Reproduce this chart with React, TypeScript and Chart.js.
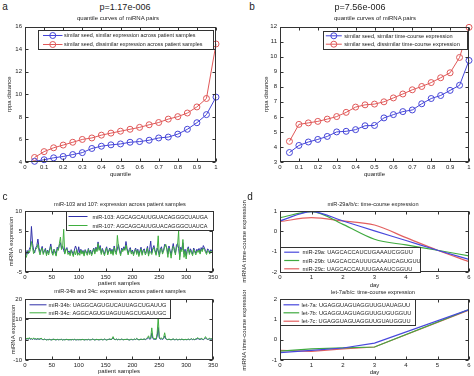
import React, { useEffect, useRef } from 'react';
import { Chart, registerables } from 'chart.js';

Chart.register(...registerables);

const FONT = '"Liberation Sans", Arial, Helvetica, sans-serif';
const TXT = '#222';
const AXIS = '#333';

// ---------- panel a / b : quantile curves ----------
const quantiles = [0.05, 0.1, 0.15, 0.2, 0.25, 0.3, 0.35, 0.4, 0.45, 0.5, 0.55, 0.6, 0.65, 0.7, 0.75, 0.8, 0.85, 0.9, 0.95, 1.0];
const aSimilar = [4.06, 4.2, 4.37, 4.49, 4.66, 4.83, 5.2, 5.4, 5.52, 5.6, 5.75, 5.81, 5.93, 6.13, 6.21, 6.47, 6.9, 7.48, 8.2, 9.75];
const aDissimilar = [4.4, 4.92, 5.26, 5.5, 5.75, 6.0, 6.13, 6.38, 6.56, 6.73, 6.9, 7.07, 7.3, 7.5, 7.8, 8.02, 8.34, 8.88, 9.63, 14.46];
const bSimilar = [3.63, 4.1, 4.33, 4.5, 4.7, 5.0, 5.04, 5.15, 5.41, 5.43, 5.93, 6.15, 6.35, 6.46, 6.87, 7.22, 7.42, 7.76, 8.1, 9.75];
const bDissimilar = [4.37, 5.5, 5.6, 5.7, 5.85, 6.02, 6.3, 6.65, 6.8, 6.85, 7.0, 7.26, 7.52, 7.8, 8.02, 8.28, 8.6, 8.93, 9.95, 11.95];
const aLabels = ['similar seed, similar expression across patient samples', 'similar seed, dissimilar expression across patient samples'];
const bLabels = ['similar seed, similar time-course expression', 'similar seed, dissimilar time-course expression'];

// ---------- panel c : expression across patient samples (every 2nd sample) ----------
const sampleStep = 2;
const mir103 = [
  -0.8, 0.3, -0.5, 0.6, 1.2, 6.2, 2.1, 0.4, -0.3, 0.9,
  1.5, 3.1, 1.0, -0.2, 0.5, 1.3, -0.4, 0.2, 0.8, -0.6,
  0.4, -0.3, 0.7, 1.9, 0.2, -0.5, 0.6, 0.1, -0.7, 1.1,
  0.5, 1.6, 2.2, 0.8, 1.4, 0.3, -0.4, 0.6, 1.0, -0.2,
  0.2, -0.6, 0.5, 0.0, -0.8, 0.4, 1.4, 0.7, -0.5, 1.2,
  -0.4, 0.6, -0.2, 0.3, -0.7, 0.5, 0.0, -0.5, 0.8, -0.3,
  0.4, -0.6, 0.2, 0.9, -0.2, 1.1, 0.3, 2.4, 0.6, 1.5,
  -0.3, 0.8, 0.1, -0.6, 0.5, 1.2, -0.4, 0.3, 0.9, -0.2,
  0.6, -0.5, 1.4, 0.2, -0.3, 0.7, 1.8, 0.4, -0.6, 0.9,
  0.3, 1.2, 0.6, 2.5, 0.8, -0.4, 0.5, 1.0, -0.2, 0.4,
  -0.6, 0.3, 0.9, -0.3, 0.6, -0.8, 0.2, 1.1, -0.5, 0.4,
  0.7, -0.4, 0.1, 1.3, -0.7, 0.5, 2.6, -0.3, 0.8, 1.5,
  0.3, -0.5, 0.9, 0.2, -0.9, 0.6, 1.2, -0.2, 0.4, 1.8,
  1.5, 0.9, -0.6, 1.4, 0.3, -0.8, 0.7, 2.0, 0.2, -0.4,
  1.6, 2.0, 0.8, -1.2, 1.1, 0.4, 2.2, -0.5, 0.6, -1.0,
  0.5, 1.2, -0.3, 0.7, 0.1, -0.6, 0.9, 0.3, -0.4, 0.6,
  0.2, 0.8, -0.2, 1.0, 0.4, 1.5, 0.9, 0.3, -0.3, 0.7,
  0.4, -0.2, 0.5, 0.1, -0.1,
];
const mir107 = [
  -1.5, -0.6, 0.2, -0.3, 0.5, 2.5, 1.0, -0.5, 0.3, 0.6,
  0.8, 1.8, 0.2, -0.8, 0.4, 0.9, -0.7, 0.1, 0.5, -1.0,
  0.2, -0.8, 0.4, 1.2, -0.3, -0.9, 0.5, -0.4, -1.1, 0.7,
  0.3, 2.0, 3.6, 0.5, 1.0, 5.5, -0.6, 0.4, 0.7, -0.7,
  -0.2, -1.0, 0.3, -0.5, -1.2, 0.2, -0.8, 0.5, -0.9, -0.3,
  -0.9, 0.4, -0.6, 0.1, -1.1, 0.3, -0.4, -0.9, 0.6, -0.7,
  0.1, -1.0, -0.2, 0.7, -0.6, 0.8, 0.0, 2.0, 0.3, 1.1,
  -0.7, 0.5, -0.3, -1.0, 0.2, 0.9, -0.8, 0.0, 0.6, -0.6,
  0.3, -0.9, 1.0, -0.2, -0.7, 4.0, 1.2, 0.1, -1.0, 0.5,
  0.0, 0.9, 0.3, 1.6, 0.4, -0.8, 0.2, 0.6, -0.6, 0.1,
  -1.0, 0.0, 0.5, -0.7, 0.3, -1.2, -0.1, 0.7, -0.9, 0.1,
  0.4, -0.8, -0.2, 0.9, -1.1, 0.2, -0.2, -0.7, 0.5, 1.0,
  0.0, -0.9, 0.5, 3.9, -1.3, 0.3, 0.8, -0.6, 0.1, 1.2,
  1.8, 0.5, -1.4, 0.9, 0.0, -1.6, 0.3, 1.3, 0.8, -0.8,
  0.9, 1.5, 5.1, -2.0, 0.6, 0.0, 3.0, -1.4, 0.2, -1.8,
  0.1, 0.8, -0.7, 0.3, -0.3, -1.0, 0.5, -0.1, -0.8, 0.2,
  -0.2, 0.4, -0.6, 0.6, 0.0, 0.9, 0.5, -0.1, -0.7, 0.3,
  0.0, -0.6, 0.2, -0.3, -0.4,
];
const mir34b = [
  0.2, 0.5, 0.3, 0.6, 0.2, 0.4, 0.1, 0.5, 0.2, 0.3,
  0.1, 0.4, 0.2, 0.3, 0.5, 0.1, 0.0, 0.2, 0.1, 0.0,
  0.0, 0.1, 0.1, -0.1, 0.0, 0.2, 0.1, 0.0, -0.1, 0.1,
  0.0, 0.0, 0.1, 0.1, -0.1, 0.0, 0.0, 0.1, 0.1, 0.0,
  -0.1, 0.0, 0.0, 0.1, -0.1, 0.1, 0.0, -0.1, 0.0, 0.0,
  0.0, 0.0, 0.1, 0.1, -0.1, 0.0, 0.0, 0.0, 0.1, -0.1,
  0.0, 0.0, 0.2, 0.1, -0.1, 0.0, 0.1, 0.0, -0.1, 0.0,
  0.1, 0.0, 0.0, 0.2, 0.0, -0.1, 0.1, 0.1, 0.2, 0.0,
  0.2, 0.9, 0.1, 0.0, 0.2, 0.0, 0.1, 0.0, 0.1, 0.2,
  0.0, 0.0, 0.1, 0.1, 0.2, 0.0, -0.1, 0.0, 0.1, 0.0,
  0.0, 0.2, 0.1, 0.4, 0.1, 0.0, 0.0, 0.2, 0.1, 0.1,
  0.2, 0.0, 0.3, 0.5, 1.0, 0.2, 0.4, 3.2, 0.6, 0.1,
  0.3, 0.1, 1.6, 6.0, 0.8, 0.2, 0.4, 0.1, 0.5, 1.8,
  0.4, 0.1, 0.0, 0.2, 0.0, 0.0, 0.1, 0.2, 0.0, 0.0,
  0.1, 0.0, 0.0, 0.1, 0.0, 0.2, 0.0, 0.0, 0.1, 0.0,
  0.0, 0.2, 0.0, 0.1, 0.3, 0.0, 0.2, 0.0, 0.2, 0.3,
  0.6, 0.2, 0.1, 0.4, 0.2, 0.0, 0.3, 0.9, 0.3, 0.1,
  0.2, 0.4, 0.2, 0.3, 0.1,
];
const mir34c = [
  0.3, 0.8, 0.2, 1.0, 0.4, 0.6, 0.1, 0.9, 0.3, 0.5,
  0.2, 0.7, 0.1, 0.4, 0.8, 0.2, 0.0, 0.3, 0.1, -0.2,
  0.1, -0.1, 0.2, 0.0, -0.2, 0.1, 0.3, -0.1, 0.0, 0.2,
  -0.1, 0.1, 0.0, 0.2, -0.2, 0.1, -0.1, 0.0, 0.2, -0.1,
  0.0, 0.1, -0.2, 0.1, 0.0, 0.2, -0.1, 0.0, 0.1, -0.1,
  0.1, -0.1, 0.0, 0.2, -0.2, 0.0, 0.1, -0.1, 0.2, 0.0,
  -0.1, 0.1, 0.3, 0.0, -0.2, 0.1, 0.2, -0.1, 0.0, 0.1,
  0.2, -0.1, 0.0, 0.3, 0.1, -0.2, 0.0, 0.2, 0.4, 0.1,
  0.3, 1.5, 0.2, 0.0, 0.4, -0.1, 0.2, 0.1, 0.0, 0.3,
  0.1, -0.1, 0.2, 0.0, 0.3, 0.1, -0.2, 0.1, 0.2, 0.0,
  0.1, 0.3, 0.0, 0.7, 0.2, -0.1, 0.1, 0.3, 0.0, 0.2,
  0.4, 0.1, 0.6, 0.9, 1.9, 0.5, 0.8, 5.8, 1.2, 0.3,
  0.6, 0.2, 3.0, 11.0, 1.5, 0.4, 0.8, 0.3, 1.0, 3.4,
  0.7, 0.2, 0.0, 0.3, 0.1, -0.1, 0.2, 0.4, 0.0, 0.1,
  0.3, -0.1, 0.1, 0.2, 0.0, 0.3, 0.1, -0.1, 0.2, 0.0,
  0.1, 0.3, 0.0, 0.2, 0.5, 0.1, 0.3, 0.0, 0.4, 0.6,
  1.0, 0.4, 0.2, 0.7, 0.3, 0.1, 0.5, 1.5, 0.6, 0.2,
  0.4, 0.7, 0.3, 0.5, 0.2,
];
const c1Labels = ['miR-103: AGCAGCAUUGUACAGGGCUAUGA', 'miR-107: AGCAGCAUUGUACAGGGCUAUCA'];
const c2Labels = ['miR-34b: UAGGCAGUGUCAUUAGCUGAUUG', 'miR-34c: AGGCAGUGUAGUUAGCUGAUUGC'];

// ---------- panel d : time-course ----------
const mir29Days = [0, 1, 2, 3, 4, 5, 6];
const mir29a = [0.51, 0.97, 0.51, 0.02, -0.45, -0.93, -1.38];
const mir29b = [0.67, 0.97, 0.34, -0.39, -0.67, -0.93, -1.21];
const mir29c = [0.48, 0.67, 0.51, 0.31, -0.31, -0.93, -1.49];
const let7Days = [0, 1, 2, 3, 6];
const let7a = [-0.64, -0.53, -0.41, -0.17, 1.48];
const let7b = [-0.56, -0.45, -0.4, -0.36, 1.48];
const let7c = [-0.53, -0.58, -0.45, -0.36, 1.45];
const d1Labels = ['miR-29a: UAGCACCAUCUGAAAUCGGUU', 'miR-29b: UAGCACCAUUUGAAAUCAGUGUU', 'miR-29c: UAGCACCAUUUGAAAUCGGUU'];
const d2Labels = ['let-7a: UGAGGUAGUAGGUUGUAUAGUU', 'let-7b: UGAGGUAGUAGGUUGUGUGGUU', 'let-7c: UGAGGUAGUAGGUUGUAUGGUU'];

const BLUE = '#4545d8';
const RED = '#e05858';
const C_BLUE = '#3030a8';
const C_GREEN = '#3fae3f';
const D_BLUE = '#4848dc';
const D_GREEN = '#3faa3f';
const D_RED = '#e36060';

const zip = (xs: number[], ys: number[]) => ys.map((y, i) => ({ x: xs[i], y }));
const samplePositions = (n: number) => Array.from({ length: n }, (_, i) => (i + 1) * sampleStep);

const matlabPlugin = {
  id: 'matlab',
  afterDraw(chart: any, _args: any, opts: any) {
    const ctx = chart.ctx;
    const a = chart.chartArea;
    const L = Math.round(a.left) + 0.5;
    const R = Math.round(a.right) - 0.5;
    const T = Math.round(a.top) + 0.5;
    const B = Math.round(a.bottom) - 0.5;
    const xs = chart.scales.x;
    const ys = chart.scales.y;
    ctx.save();
    ctx.strokeStyle = AXIS;
    ctx.lineWidth = 1;
    ctx.beginPath();
    xs.ticks.forEach((t: any) => {
      const p = Math.round(xs.getPixelForValue(t.value)) + 0.5;
      ctx.moveTo(p, B); ctx.lineTo(p, B - 3);
      ctx.moveTo(p, T); ctx.lineTo(p, T + 3);
    });
    ys.ticks.forEach((t: any) => {
      const p = Math.round(ys.getPixelForValue(t.value)) + 0.5;
      ctx.moveTo(L, p); ctx.lineTo(L + 3, p);
      ctx.moveTo(R, p); ctx.lineTo(R - 3, p);
    });
    ctx.stroke();
    ctx.strokeRect(L, T, R - L, B - T);
    const lg = opts && opts.legend;
    if (lg) {
      const bx = L + lg.x;
      const by = T + lg.y;
      ctx.fillStyle = '#fff';
      ctx.fillRect(bx, by, lg.w, lg.h);
      ctx.strokeStyle = AXIS;
      ctx.strokeRect(bx, by, lg.w, lg.h);
      ctx.font = `${lg.size}px ${FONT}`;
      ctx.textBaseline = 'middle';
      ctx.textAlign = 'left';
      chart.data.datasets.forEach((ds: any, i: number) => {
        const yy = by + lg.rows[i];
        ctx.strokeStyle = ds.borderColor;
        ctx.lineWidth = ds.borderWidth || 1;
        ctx.beginPath();
        ctx.moveTo(bx + lg.l0, yy);
        ctx.lineTo(bx + lg.l1, yy);
        ctx.stroke();
        if (ds.pointRadius) {
          ctx.beginPath();
          ctx.arc(bx + (lg.l0 + lg.l1) / 2, yy, ds.pointRadius, 0, Math.PI * 2);
          ctx.stroke();
        }
        ctx.fillStyle = TXT;
        ctx.fillText(ds.label, bx + lg.tx, yy + 0.5);
      });
    }
    ctx.restore();
  },
};

type Geo = { padTop: number; padRight: number; yW: number; xH: number; xTitlePad: number; yTitlePad: number };
type Ax = { min: number; max: number; step: number; title: string };

const fmt = (v: any) => String(Math.round(Number(v) * 1000) / 1000);

function makeConfig(datasets: any[], geo: Geo, x: Ax, y: Ax, legend: any) {
  const tickFont = { family: FONT, size: 6 };
  const titleFont = { family: FONT, size: 6 };
  return {
    type: 'line',
    data: { datasets },
    options: {
      responsive: false,
      animation: false,
      devicePixelRatio: 1,
      layout: { padding: { top: geo.padTop, right: geo.padRight, left: 0, bottom: 0 } },
      plugins: { legend: { display: false }, tooltip: { enabled: false }, matlab: { legend } },
      scales: {
        x: {
          type: 'linear',
          min: x.min,
          max: x.max,
          afterFit: (s: any) => { s.height = geo.xH; },
          ticks: { stepSize: x.step, autoSkip: false, maxRotation: 0, font: tickFont, color: TXT, padding: 2, callback: fmt },
          grid: { display: false, drawTicks: false },
          border: { display: false },
          title: { display: true, text: x.title, font: titleFont, color: TXT, padding: { top: 0, bottom: geo.xTitlePad } },
        },
        y: {
          type: 'linear',
          min: y.min,
          max: y.max,
          afterFit: (s: any) => { s.width = geo.yW; },
          ticks: { stepSize: y.step, autoSkip: false, font: tickFont, color: TXT, padding: 3, callback: fmt },
          grid: { display: false, drawTicks: false },
          border: { display: false },
          title: { display: true, text: y.title, font: titleFont, color: TXT, padding: { top: geo.yTitlePad, bottom: 0 } },
        },
      },
    },
    plugins: [matlabPlugin],
  };
}

function quantileSet(label: string, values: number[], color: string) {
  return {
    label,
    data: zip(quantiles, values),
    borderColor: color,
    backgroundColor: 'transparent',
    borderWidth: 1,
    pointRadius: 3,
    pointBorderWidth: 1,
    pointBorderColor: color,
    pointBackgroundColor: 'transparent',
    clip: false,
  };
}

function seriesSet(label: string, xs: number[], values: number[], color: string, order: number, smooth = false, width = 1) {
  return {
    label,
    data: zip(xs, values),
    borderColor: color,
    backgroundColor: 'transparent',
    borderWidth: width,
    pointRadius: 0,
    order,
    cubicInterpolationMode: smooth ? 'monotone' : 'default',
  };
}

type PanelProps = { left: number; top: number; width: number; height: number; make: () => any };

function ChartPanel({ left, top, width, height, make }: PanelProps) {
  const ref = useRef<HTMLCanvasElement>(null);
  useEffect(() => {
    const chart = new Chart(ref.current as HTMLCanvasElement, make());
    return () => chart.destroy();
  }, []);
  return (
    <canvas
      ref={ref}
      width={width}
      height={height}
      style={{ position: 'absolute', left, top, width, height }}
    />
  );
}

const texts = [
  { t: 'a', x: 5, y: 6.5, s: 10 },
  { t: 'b', x: 252, y: 6.5, s: 10 },
  { t: 'c', x: 5, y: 196.5, s: 10 },
  { t: 'd', x: 250, y: 196.5, s: 10 },
  { t: 'p=1.17e-006', x: 125, y: 7, s: 9 },
  { t: 'quantile curves of miRNA pairs', x: 118, y: 18, s: 6 },
  { t: 'p=7.56e-006', x: 360, y: 7, s: 9 },
  { t: 'quantile curves of miRNA pairs', x: 375, y: 18, s: 6 },
  { t: 'miR-103 and 107: expression across patient samples', x: 120, y: 205, s: 5.6 },
  { t: 'miR-34b and 34c: expression across patient samples', x: 120, y: 292, s: 5.6 },
  { t: 'miR-29a/b/c: time-course expression', x: 373, y: 205, s: 5.6 },
  { t: 'let-7a/b/c: time-course expression', x: 373, y: 293, s: 5.6 },
];

export default function App() {
  const samples = samplePositions(mir103.length);
  return (
    <div style={{ position: 'absolute', left: 0, top: 0, width: 474, height: 376, background: '#fff', overflow: 'hidden' }}>
      <ChartPanel
        left={0} top={20} width={237} height={168}
        make={() => makeConfig(
          [quantileSet(aLabels[0], aSimilar, BLUE), quantileSet(aLabels[1], aDissimilar, RED)],
          { padTop: 4, padRight: 21, yW: 25, xH: 26, xTitlePad: 10.4, yTitlePad: 5.9 },
          { min: 0, max: 1, step: 0.1, title: 'quantile' },
          { min: 4, max: 16, step: 2, title: 'rppa distance' },
          { x: 13, y: 3, w: 175, h: 19, rows: [5, 14], l0: 4.5, l1: 24, tx: 25.5, size: 5.4 },
        )}
      />
      <ChartPanel
        left={237} top={20} width={237} height={168}
        make={() => makeConfig(
          [quantileSet(bLabels[0], bSimilar, BLUE), quantileSet(bLabels[1], bDissimilar, RED)],
          { padTop: 4, padRight: 5, yW: 43, xH: 26, xTitlePad: 10.4, yTitlePad: 25.4 },
          { min: 0, max: 1, step: 0.1, title: 'quantile' },
          { min: 3, max: 12, step: 1, title: 'rppa distance' },
          { x: 43, y: 4, w: 144, h: 18, rows: [4.3, 12.7], l0: 2.3, l1: 18.3, tx: 20.7, size: 5.6 },
        )}
      />
      <ChartPanel
        left={0} top={200} width={237} height={90}
        make={() => makeConfig(
          [seriesSet(c1Labels[0], samples, mir103, C_BLUE, 1), seriesSet(c1Labels[1], samples, mir107, C_GREEN, 0)],
          { padTop: 11, padRight: 24, yW: 25, xH: 18, xTitlePad: 3.4, yTitlePad: 7.4 },
          { min: 0, max: 350, step: 50, title: 'patient samples' },
          { min: -5, max: 10, step: 5, title: 'miRNA expression' },
          { x: 41, y: 0, w: 147, h: 19, rows: [5, 14], l0: 2, l1: 21, tx: 26, size: 5.5 },
        )}
      />
      <ChartPanel
        left={0} top={290} width={237} height={86}
        make={() => makeConfig(
          [seriesSet(c2Labels[0], samples, mir34b, C_BLUE, 1), seriesSet(c2Labels[1], samples, mir34c, C_GREEN, 0)],
          { padTop: 9, padRight: 24, yW: 25, xH: 16, xTitlePad: 1.4, yTitlePad: 9.4 },
          { min: 0, max: 350, step: 50, title: 'patient samples' },
          { min: -10, max: 20, step: 10, title: 'miRNA expression' },
          { x: 0, y: 0, w: 145, h: 19, rows: [5.3, 13.3], l0: 4, l1: 21, tx: 23, size: 5.6 },
        )}
      />
      <ChartPanel
        left={237} top={200} width={237} height={92}
        make={() => makeConfig(
          [
            seriesSet(d1Labels[0], mir29Days, mir29a, D_BLUE, 0, true, 1.2),
            seriesSet(d1Labels[1], mir29Days, mir29b, D_GREEN, 0, true, 1.2),
            seriesSet(d1Labels[2], mir29Days, mir29c, D_RED, 0, true, 1.2),
          ],
          { padTop: 11, padRight: 5, yW: 43, xH: 20, xTitlePad: 3.4, yTitlePad: 3.4 },
          { min: 0, max: 6, step: 1, title: 'day' },
          { min: -2, max: 1, step: 1, title: 'miRNA time-course expression' },
          { x: 0, y: 36, w: 140, h: 25, rows: [4.7, 13, 21.3], l0: 3.7, l1: 18.7, tx: 22, size: 5.7 },
        )}
      />
      <ChartPanel
        left={237} top={290} width={237} height={86}
        make={() => makeConfig(
          [
            seriesSet(d2Labels[0], let7Days, let7a, D_BLUE, 0, false, 1.2),
            seriesSet(d2Labels[1], let7Days, let7b, D_GREEN, 0, false, 1.2),
            seriesSet(d2Labels[2], let7Days, let7c, D_RED, 0, false, 1.2),
          ],
          { padTop: 9, padRight: 5, yW: 43, xH: 16, xTitlePad: 0.4, yTitlePad: 3.4 },
          { min: 0, max: 6, step: 1, title: 'day' },
          { min: -1, max: 2, step: 1, title: 'miRNA time-course expression' },
          { x: 0, y: 0, w: 135, h: 26, rows: [5.3, 13.3, 21.7], l0: 3, l1: 18.7, tx: 21, size: 5.7 },
        )}
      />
      {texts.map((d, i) => (
        <div
          key={i}
          style={{
            position: 'absolute',
            left: d.x,
            top: d.y,
            transform: 'translate(-50%, -50%)',
            whiteSpace: 'nowrap',
            fontFamily: FONT,
            fontSize: d.s,
            lineHeight: 1,
            color: TXT,
          }}
        >
          {d.t}
        </div>
      ))}
    </div>
  );
}
